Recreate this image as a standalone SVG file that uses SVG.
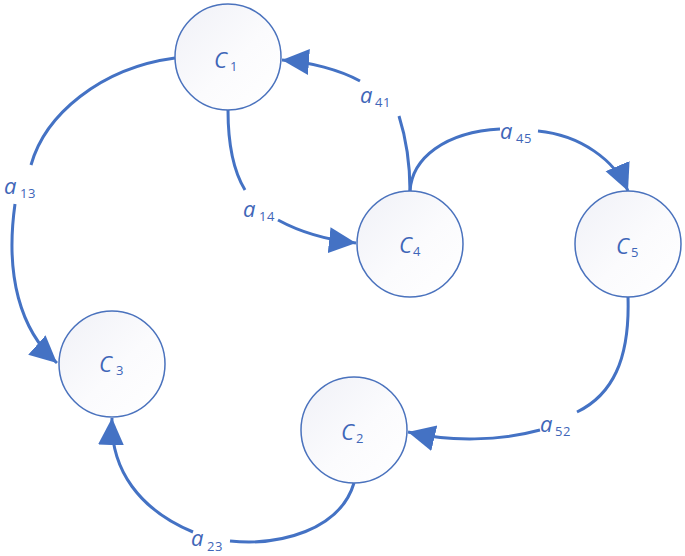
<svg xmlns="http://www.w3.org/2000/svg" width="685" height="556" viewBox="0 0 685 556">
<defs>
<linearGradient id="nodeFill" x1="0" y1="0" x2="1" y2="1">
<stop offset="0" stop-color="#f0f1f7"/>
<stop offset="0.55" stop-color="#fbfbfd"/>
<stop offset="1" stop-color="#ffffff"/>
</linearGradient>
<marker id="arrow" markerUnits="userSpaceOnUse" markerWidth="30" markerHeight="28" refX="27" refY="13" orient="auto">
<path d="M0,0 L27,13 L0,26 z" fill="#4472c4"/>
</marker>
<style>
.node circle{fill:url(#nodeFill);stroke:#4a72bd;stroke-width:1.5}
.edge{fill:none;stroke:#4472c4;stroke-width:3;marker-end:url(#arrow)}
.lbl{font-family:"Open Sans","Noto Sans",sans-serif;fill:#3f66b8}
.main{font-size:22px;font-style:italic}
.sub{font-size:13px;letter-spacing:0.5px}
</style>
</defs>
<rect width="685" height="556" fill="#ffffff"/>
<g id="connectors">
<path class="edge" d="M175,58 C100,68 45,115 31,165 M15,204 C5,275 20,330 57,363"/>
<path class="edge" d="M228,110 C228,148 234,172 245,190 M278,220 C300,232 328,240 356,243"/>
<path class="edge" d="M410,191 C410,160 405,135 399,116 M360,81 C340,70 310,62 282,60"/>
<path class="edge" d="M410,191 C412,158 445,132 500,129 M538,131 C580,135 615,160 628,191"/>
<path class="edge" d="M628,297 C630,360 612,395 577,412 M540,430 C500,441 450,442 408,432"/>
<path class="edge" d="M354,483 C340,530 280,546 230,541 M193,532 C140,510 110,470 112,418"/>
<text class="lbl"><tspan class="main" x="4" y="194">a</tspan><tspan class="sub" x="20" y="198">13</tspan></text>
<text class="lbl"><tspan class="main" x="243" y="217">a</tspan><tspan class="sub" x="259" y="221">14</tspan></text>
<text class="lbl"><tspan class="main" x="360" y="103">a</tspan><tspan class="sub" x="375" y="107">41</tspan></text>
<text class="lbl"><tspan class="main" x="500" y="139">a</tspan><tspan class="sub" x="516" y="143">45</tspan></text>
<text class="lbl"><tspan class="main" x="540" y="432">a</tspan><tspan class="sub" x="555" y="436">52</tspan></text>
<text class="lbl"><tspan class="main" x="191" y="546">a</tspan><tspan class="sub" x="207" y="551">23</tspan></text>
</g>
<g id="C1" class="node"><circle cx="228" cy="57" r="53"/><text class="lbl"><tspan class="main" x="214" y="68">C</tspan><tspan class="sub" x="230" y="71">1</tspan></text></g>
<g id="C4" class="node"><circle cx="410" cy="244" r="53"/><text class="lbl"><tspan class="main" x="399" y="253">C</tspan><tspan class="sub" x="413" y="256">4</tspan></text></g>
<g id="C5" class="node"><circle cx="628" cy="244" r="53"/><text class="lbl"><tspan class="main" x="616" y="254">C</tspan><tspan class="sub" x="631" y="257">5</tspan></text></g>
<g id="C3" class="node"><circle cx="112" cy="364" r="53"/><text class="lbl"><tspan class="main" x="99" y="372">C</tspan><tspan class="sub" x="116" y="375">3</tspan></text></g>
<g id="C2" class="node"><circle cx="354" cy="430" r="53"/><text class="lbl"><tspan class="main" x="341" y="440">C</tspan><tspan class="sub" x="356" y="443">2</tspan></text></g>
</svg>
